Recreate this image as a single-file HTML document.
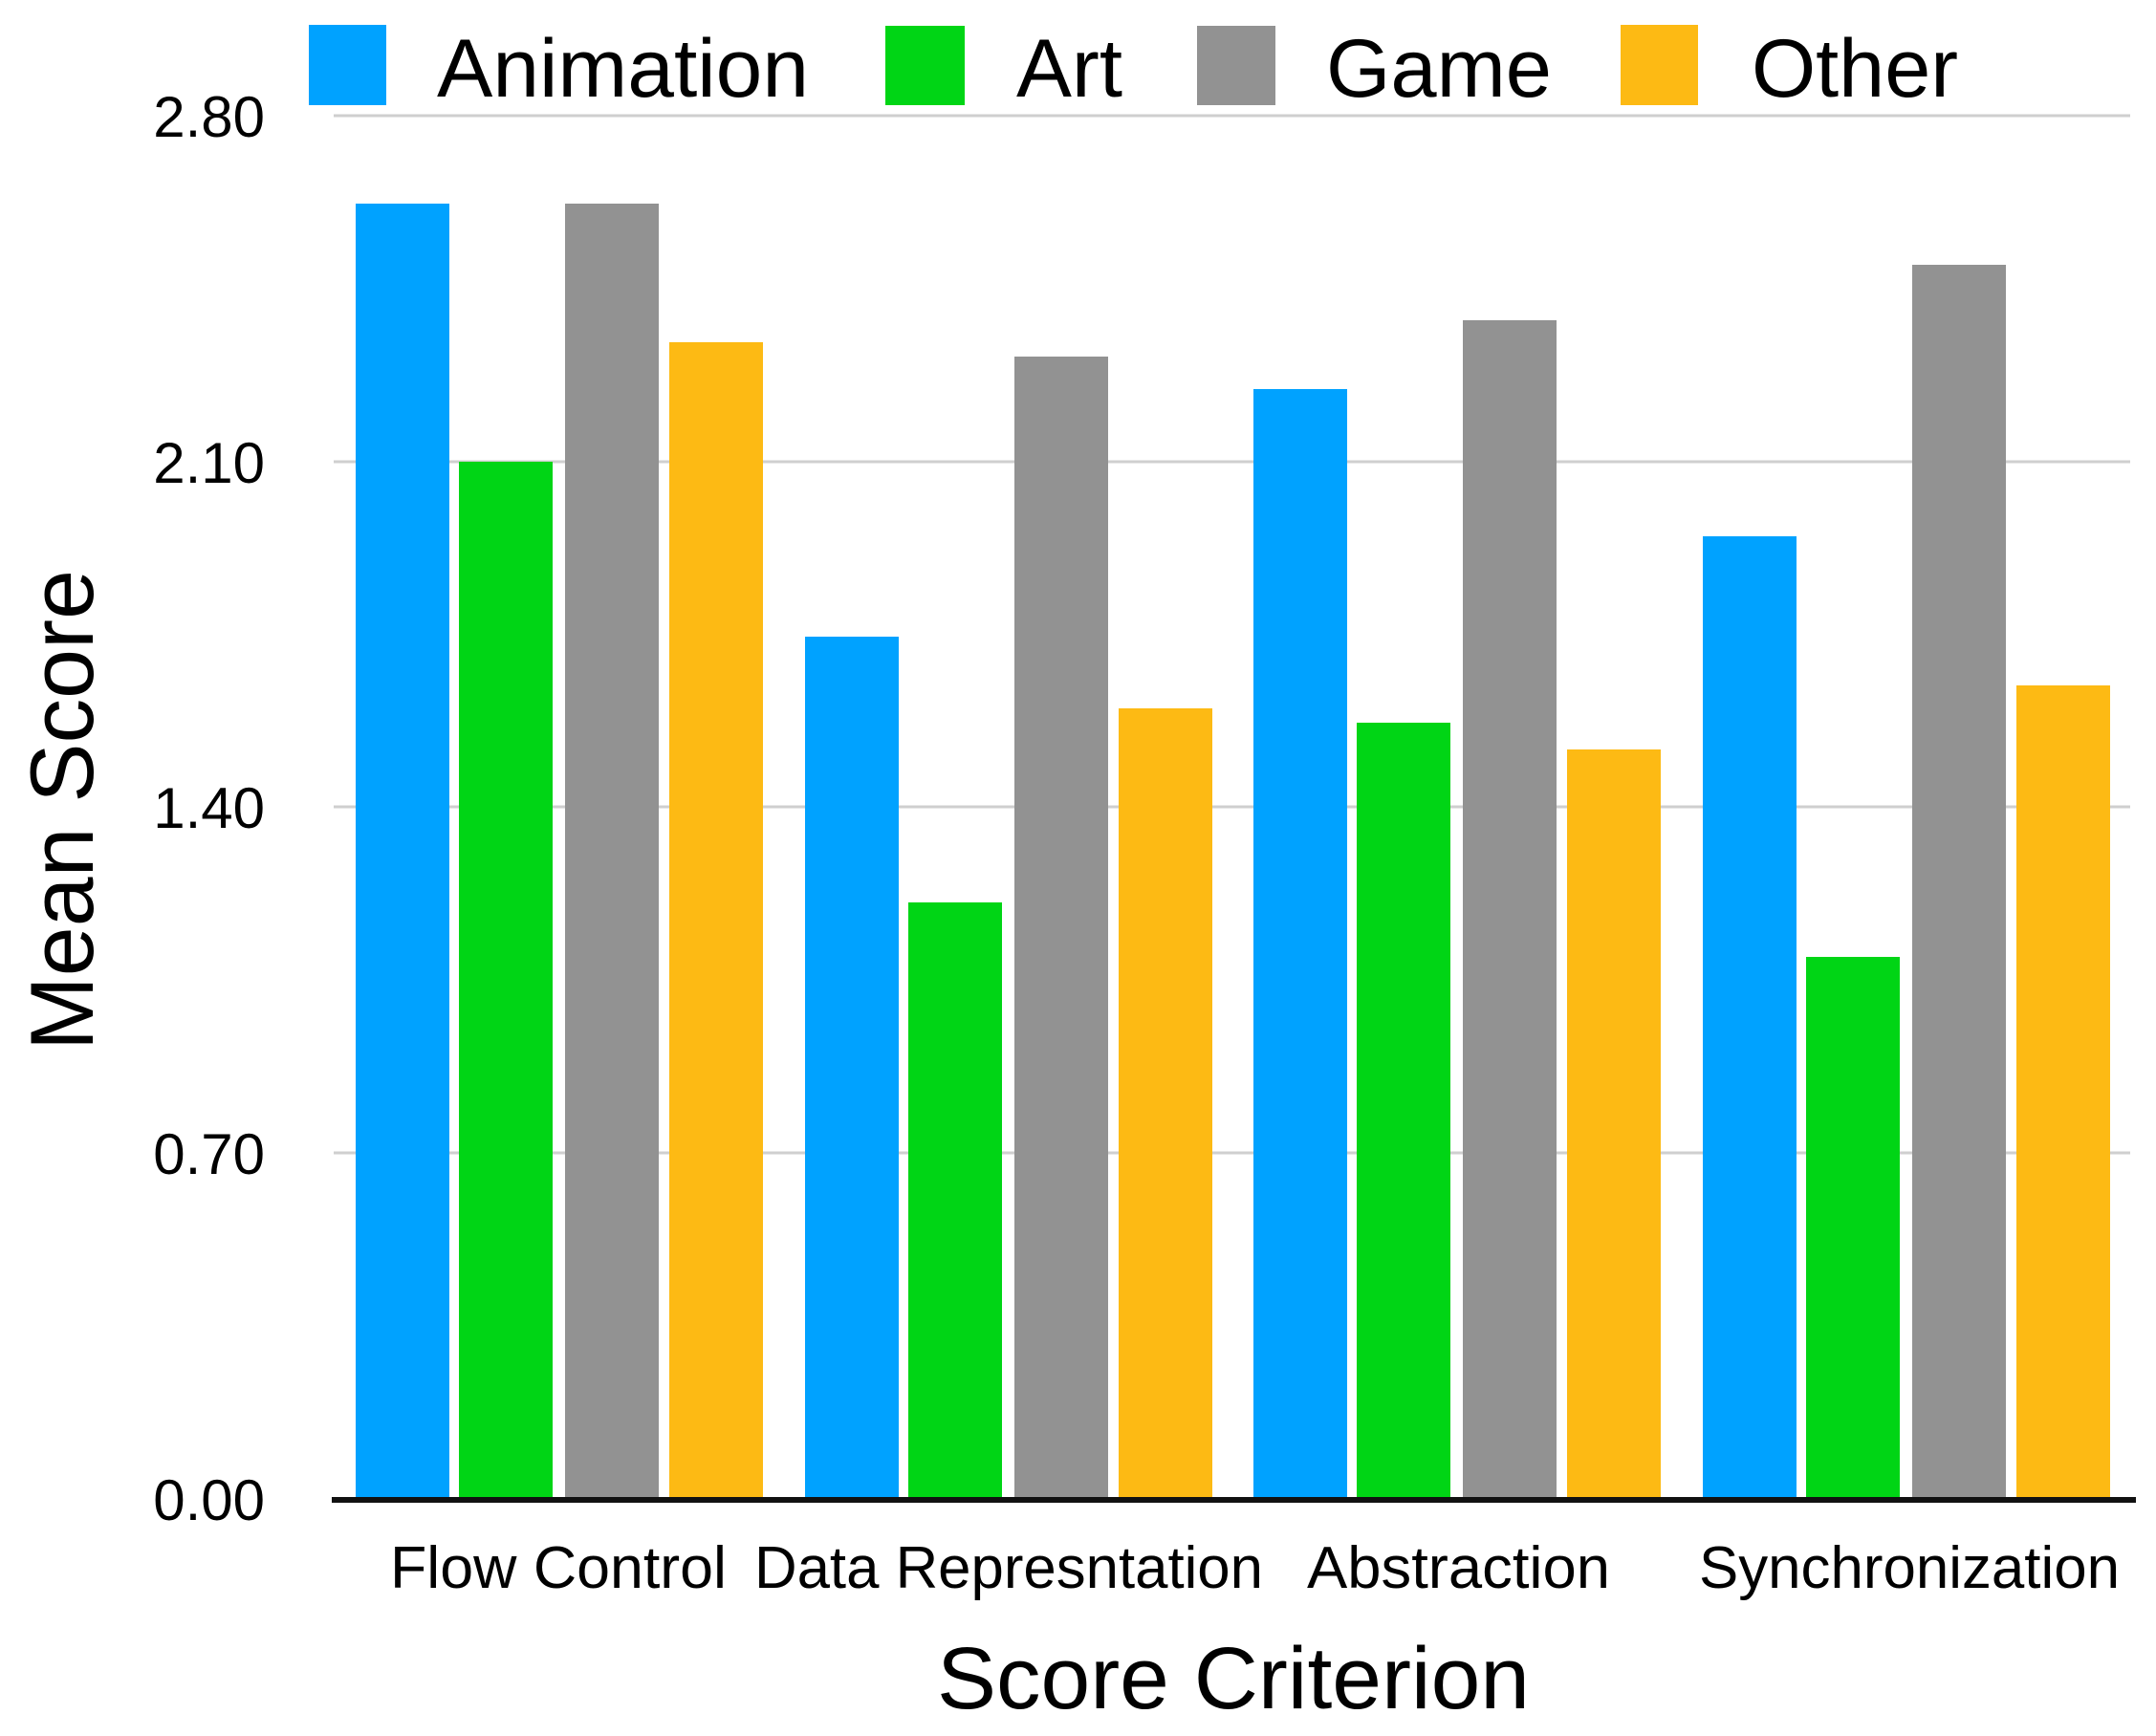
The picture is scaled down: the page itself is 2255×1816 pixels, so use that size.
<!DOCTYPE html>
<html><head><meta charset="utf-8"><style>
html,body{margin:0;padding:0;background:#fff}
svg{display:block}
text{font-family:"Liberation Sans",Arial,sans-serif;fill:#000}
</style></head><body>
<svg width="2255" height="1816" viewBox="0 0 2255 1816" xmlns="http://www.w3.org/2000/svg">
<rect width="2255" height="1816" fill="#fff"/>
<g stroke="#cfcfcf" stroke-width="3">
<line x1="349" y1="121" x2="2228" y2="121"/>
<line x1="349" y1="483" x2="2228" y2="483"/>
<line x1="349" y1="844" x2="2228" y2="844"/>
<line x1="349" y1="1206" x2="2228" y2="1206"/>
</g>
<g font-size="60" text-anchor="end">
<text x="277" y="143">2.80</text>
<text x="277" y="505">2.10</text>
<text x="277" y="866">1.40</text>
<text x="277" y="1228">0.70</text>
<text x="277" y="1590">0.00</text>
</g>
<g>
<rect x="372" y="213" width="98" height="1355" fill="#00a2ff"/>
<rect x="480" y="483" width="98" height="1085" fill="#00d515"/>
<rect x="591" y="213" width="98" height="1355" fill="#929292"/>
<rect x="700" y="358" width="98" height="1210" fill="#fdba14"/>

<rect x="842" y="666" width="98" height="902" fill="#00a2ff"/>
<rect x="950" y="944" width="98" height="624" fill="#00d515"/>
<rect x="1061" y="373" width="98" height="1195" fill="#929292"/>
<rect x="1170" y="741" width="98" height="827" fill="#fdba14"/>

<rect x="1311" y="407" width="98" height="1161" fill="#00a2ff"/>
<rect x="1419" y="756" width="98" height="812" fill="#00d515"/>
<rect x="1530" y="335" width="98" height="1233" fill="#929292"/>
<rect x="1639" y="784" width="98" height="784" fill="#fdba14"/>

<rect x="1781" y="561" width="98" height="1007" fill="#00a2ff"/>
<rect x="1889" y="1001" width="98" height="567" fill="#00d515"/>
<rect x="2000" y="277" width="98" height="1291" fill="#929292"/>
<rect x="2109" y="717" width="98" height="851" fill="#fdba14"/>
</g>
<line x1="347" y1="1569" x2="2234" y2="1569" stroke="#111" stroke-width="6"/>
<g font-size="62">
<text x="408" y="1661" textLength="352" lengthAdjust="spacingAndGlyphs">Flow Control</text>
<text x="789" y="1661" textLength="532" lengthAdjust="spacingAndGlyphs">Data Represntation</text>
<text x="1367" y="1661" textLength="317" lengthAdjust="spacingAndGlyphs">Abstraction</text>
<text x="1777" y="1661" textLength="440" lengthAdjust="spacingAndGlyphs">Synchronization</text>
</g>
<text x="980" y="1787" font-size="92" textLength="620" lengthAdjust="spacingAndGlyphs">Score Criterion</text>
<text transform="translate(97,1099) rotate(-90)" font-size="94" textLength="503" lengthAdjust="spacingAndGlyphs">Mean Score</text>
<rect x="323" y="26" width="81" height="84" fill="#00a2ff"/>
<rect x="926" y="27" width="83" height="83" fill="#00d515"/>
<rect x="1252" y="27" width="82" height="83" fill="#929292"/>
<rect x="1695" y="26" width="81" height="84" fill="#fdba14"/>
<g font-size="86">
<text x="457" y="101" textLength="389" lengthAdjust="spacingAndGlyphs">Animation</text>
<text x="1063" y="101" textLength="111" lengthAdjust="spacingAndGlyphs">Art</text>
<text x="1387" y="101" textLength="236" lengthAdjust="spacingAndGlyphs">Game</text>
<text x="1832" y="101" textLength="216" lengthAdjust="spacingAndGlyphs">Other</text>
</g>
</svg>
</body></html>
